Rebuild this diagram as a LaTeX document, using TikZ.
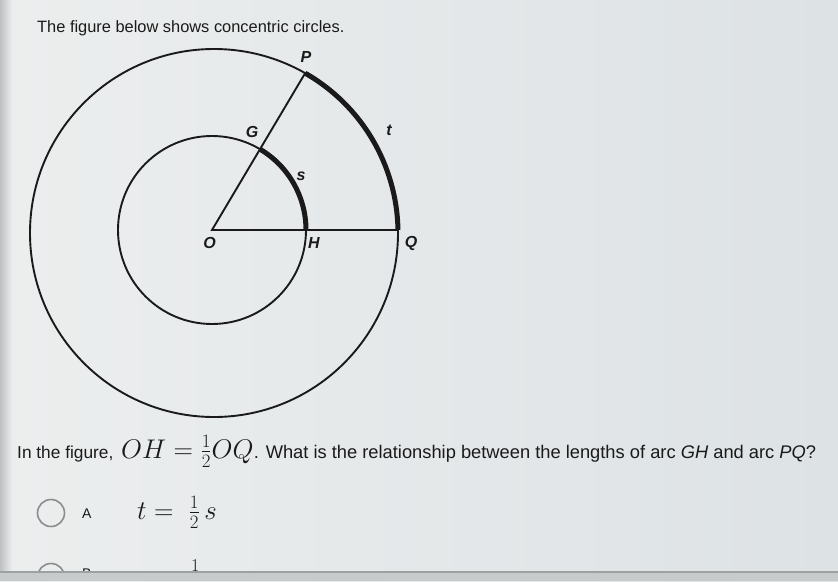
\RequirePackage{fix-cm}
\documentclass[tikz,border=0pt]{standalone}
\usepackage{fontspec}
\usetikzlibrary{calc}
\newfontfamily\sansf{Liberation Sans}
\definecolor{bgL}{HTML}{ECEEEE}
\definecolor{bgR}{HTML}{DDE2E5}
\definecolor{stripD}{HTML}{BDC0C1}
\definecolor{ink}{HTML}{1A1A1A}
\definecolor{radio}{HTML}{8A8C8D}
\definecolor{band}{HTML}{C8CBCC}
\definecolor{bandline}{HTML}{9EA1A2}
\tikzset{
  thin line/.style={draw=ink, line width=1.9pt},
  thick arc/.style={draw=ink, line width=5pt},
  ptlabel/.style={font=\sansf\bfseries\itshape\fontsize{16}{18}\selectfont, text=ink, inner sep=0pt},
  txt/.style={font=\sansf\fontsize{18.3}{21}\selectfont, text=ink, inner sep=0pt, anchor=base west},
  mathtxt/.style={font=\fontsize{27}{30}\selectfont, text=ink, inner sep=0pt, anchor=base west},
}
\begin{document}
\begin{tikzpicture}[x=1pt,y=-1pt]
\useasboundingbox (0,0) rectangle (838,581);
% background
\shade[left color=bgL, right color=bgR] (0,0) rectangle (838,581);
\shade[left color=stripD, right color=bgL] (0,0) rectangle (12,572);
% title
\node[txt, font=\sansf\fontsize{16.4}{19}\selectfont] (title) at (37,32) {The figure below shows concentric circles.};
% geometry
\coordinate (O) at (212,230);
\coordinate (C2) at (214,233);
\coordinate (H) at ($(O)+(94,0)$);
\coordinate (G) at ($(O)+(-59.3:94)$);
\coordinate (Q) at ($(C2)+(-0.93:184)$);
\coordinate (P) at ($(C2)+(-60.3:184)$);
\draw[thin line] (O) circle[radius=94];
\draw[thin line] (C2) circle[radius=184];
\draw[thin line] (P) -- (O) -- (Q);
\draw[thick arc, line cap=butt] (H) arc[start angle=0, end angle=-59.3, radius=94];
\draw[thick arc, line cap=butt] (Q) arc[start angle=-0.93, end angle=-60.3, radius=184];
% labels
\node[ptlabel] (lP) at (306,57) {P};
\node[ptlabel] (lG) at (252,132) {G};
\node[ptlabel] (lt) at (389,130) {t};
\node[ptlabel] (ls) at (301,176) {s};
\node[ptlabel] (lO) at (209.5,243) {O};
\node[ptlabel] (lH) at (314,243) {H};
\node[ptlabel] (lQ) at (411,243) {Q};
% question
\node[txt, font=\sansf\fontsize{17.3}{21}\selectfont] (q1) at (17,458) {In the figure,};
\node[mathtxt] (q2) at (121,458) {$OH=\frac{1}{2}OQ$};
\node[txt] (q3) at (q2.base east) {. What is the relationship between the lengths of arc \textit{GH} and arc \textit{PQ}?};
% option A
\node[circle, draw=radio, line width=1.6pt, minimum size=27pt, inner sep=0pt] (ra) at (51,513) {};
\node[txt, font=\sansf\fontsize{14}{17}\selectfont] (la) at (82,518) {A};
\node[mathtxt] (ma) at (137,519) {$t=\;\frac{1}{2}\,s$};
% next option (cut off)
\begin{scope}
\clip (0,0) rectangle (838,572);
\node[circle, draw=radio, line width=1.6pt, minimum size=27pt, inner sep=0pt] (rb) at (51,577) {};
\node[txt, font=\sansf\fontsize{14}{17}\selectfont] (lb) at (82,578) {B};
\node[txt, font=\fontsize{18}{20}\selectfont] (mb) at (191,571) {1};
\end{scope}
% bottom band
\fill[band] (0,572) rectangle (838,581);
\draw[bandline, line width=1.2pt] (0,572) -- (838,572);
\end{tikzpicture}
\end{document}
